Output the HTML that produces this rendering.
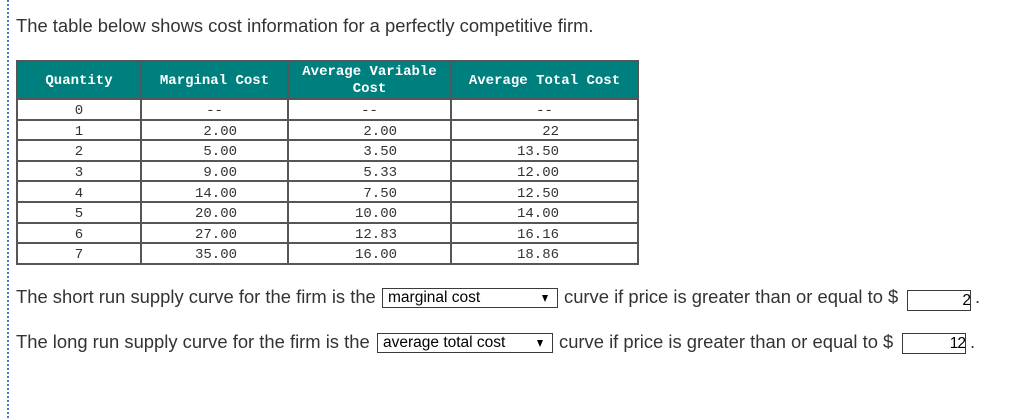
<!DOCTYPE html>
<html>
<head>
<meta charset="utf-8">
<style>
  html,body{margin:0;padding:0;}
  body{width:1024px;height:420px;background:#fff;position:relative;overflow:hidden;
       font-family:"Liberation Sans",Arial,sans-serif;color:#333;}
  .dots{position:absolute;left:7px;top:0;width:2px;height:420px;
        background:repeating-linear-gradient(to bottom,#3f78cc 0px,#3f78cc 2px,transparent 2px,transparent 4px);}
  .txt{position:absolute;font-size:18.4px;line-height:18.4px;white-space:nowrap;color:#333;}
  .hdr{position:absolute;left:16px;top:60px;width:623px;height:40px;background:#007f7f;}
  .hl{position:absolute;left:16px;width:623px;height:2px;background:#565656;}
  .vl{position:absolute;top:60px;width:2px;height:205px;background:#565656;}
  .ht{position:absolute;color:#fff;font-family:"Liberation Mono","DejaVu Sans Mono",monospace;
      font-weight:bold;font-size:14px;text-align:center;}
  .row{position:absolute;left:0;width:1024px;height:20px;line-height:20px;
       font-family:"Liberation Mono","DejaVu Sans Mono",monospace;font-size:14px;color:#333;}
  .row span{position:absolute;top:0;white-space:pre;}
  .q{left:18px;width:122px;text-align:center;}
  .mc{right:787px;}
  .avc{right:627px;}
  .atc{right:465px;}
  .dmc{left:142px;width:145px;text-align:center;}
  .davc{left:289px;width:161px;text-align:center;}
  .datc{left:452px;width:185px;text-align:center;}
  .sel{position:absolute;box-sizing:border-box;border:1px solid #3a3a3a;background:#fff;height:20px;width:176px;
       font-family:"Liberation Sans",Arial,sans-serif;font-size:15.5px;line-height:18px;color:#000;padding-left:5px;white-space:nowrap;}
  .arr{position:absolute;width:0;height:0;border-left:3.5px solid transparent;border-right:3.5px solid transparent;border-top:7px solid #000;}
  .inp{position:absolute;box-sizing:border-box;border:1px solid #3a3a3a;background:#fff;width:64px;height:21px;
       font-family:"Liberation Sans",Arial,sans-serif;font-size:15.5px;line-height:19px;color:#000;text-align:right;letter-spacing:-1px;}
</style>
</head>
<body>
<div class="dots"></div>

<div class="txt" style="left:16px;top:17.1px;">The table below shows cost information for a perfectly competitive firm.</div>

<!-- table -->
<div class="hdr"></div>
<div class="hl" style="top:59.5px;"></div>
<div class="hl" style="top:98px;"></div>
<div class="hl" style="top:118.6px;"></div>
<div class="hl" style="top:139.2px;"></div>
<div class="hl" style="top:159.8px;"></div>
<div class="hl" style="top:180.4px;"></div>
<div class="hl" style="top:201px;"></div>
<div class="hl" style="top:221.6px;"></div>
<div class="hl" style="top:242.2px;"></div>
<div class="hl" style="top:262.8px;"></div>
<div class="vl" style="left:16px;"></div>
<div class="vl" style="left:140px;"></div>
<div class="vl" style="left:287px;"></div>
<div class="vl" style="left:450px;"></div>
<div class="vl" style="left:637px;"></div>

<div class="ht" style="left:18px;width:122px;top:71px;line-height:20px;">Quantity</div>
<div class="ht" style="left:142px;width:145px;top:71px;line-height:20px;">Marginal Cost</div>
<div class="ht" style="left:289px;width:161px;top:63.5px;line-height:17px;">Average Variable<br>Cost</div>
<div class="ht" style="left:452px;width:185px;top:71px;line-height:20px;">Average Total Cost</div>

<div class="row" style="top:101.1px;"><span class="q">0</span><span class="dmc">--</span><span class="davc">--</span><span class="datc">--</span></div>
<div class="row" style="top:121.7px;"><span class="q">1</span><span class="mc">2.00</span><span class="avc">2.00</span><span class="atc">22</span></div>
<div class="row" style="top:142.3px;"><span class="q">2</span><span class="mc">5.00</span><span class="avc">3.50</span><span class="atc">13.50</span></div>
<div class="row" style="top:162.9px;"><span class="q">3</span><span class="mc">9.00</span><span class="avc">5.33</span><span class="atc">12.00</span></div>
<div class="row" style="top:183.5px;"><span class="q">4</span><span class="mc">14.00</span><span class="avc">7.50</span><span class="atc">12.50</span></div>
<div class="row" style="top:204.1px;"><span class="q">5</span><span class="mc">20.00</span><span class="avc">10.00</span><span class="atc">14.00</span></div>
<div class="row" style="top:224.7px;"><span class="q">6</span><span class="mc">27.00</span><span class="avc">12.83</span><span class="atc">16.16</span></div>
<div class="row" style="top:245.3px;"><span class="q">7</span><span class="mc">35.00</span><span class="avc">16.00</span><span class="atc">18.86</span></div>

<!-- line 2 -->
<div class="txt" style="left:16px;top:287.6px;">The short run supply curve for the firm is the</div>
<div class="sel" style="left:382px;top:288px;">marginal cost</div>
<div class="arr" style="left:542px;top:294.5px;"></div>
<div class="txt" style="left:564px;top:287.6px;">curve if price is greater than or equal to $</div>
<div class="inp" style="left:907px;top:289.5px;">2</div>
<div class="txt" style="left:975px;top:287.6px;">.</div>

<!-- line 3 -->
<div class="txt" style="left:16px;top:333.2px;">The long run supply curve for the firm is the</div>
<div class="sel" style="left:377px;top:333px;">average total cost</div>
<div class="arr" style="left:537px;top:339.5px;"></div>
<div class="txt" style="left:559px;top:333.2px;">curve if price is greater than or equal to $</div>
<div class="inp" style="left:902px;top:333px;">12</div>
<div class="txt" style="left:970px;top:333.2px;">.</div>
</body>
</html>
